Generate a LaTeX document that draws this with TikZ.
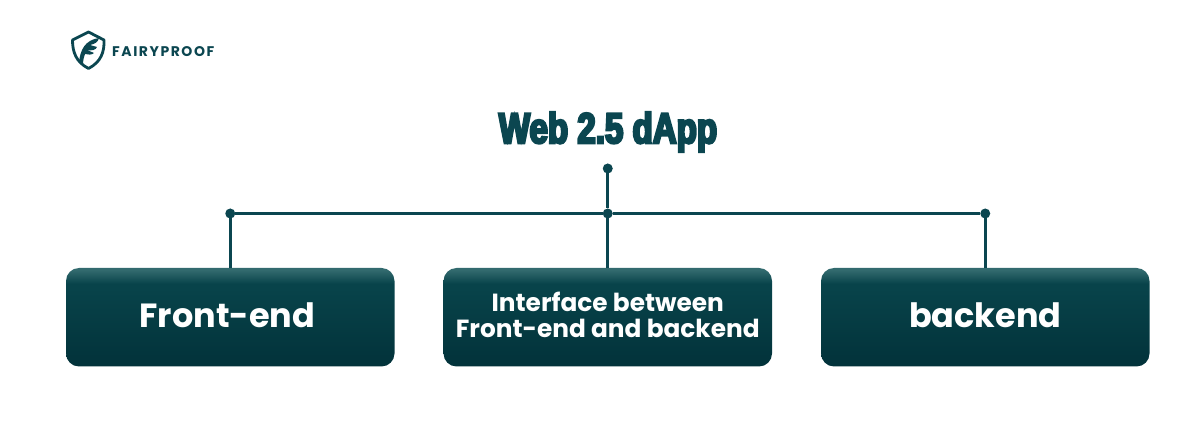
\documentclass[tikz,border=0pt]{standalone}
\usepackage{fontspec}
\setmainfont{Poppins}
\newfontfamily\titlefont[FakeBold=5.5,FakeStretch=0.77]{Liberation Sans Bold}
\usetikzlibrary{positioning}
\definecolor{fpteal}{HTML}{0B4650}
\definecolor{fpbox}{HTML}{08434A}
\definecolor{fpdark}{HTML}{02323A}
\definecolor{fplight}{HTML}{326A6E}
\pgfdeclareverticalshading{boxshade}{100bp}{
  color(0bp)=(fpdark);
  color(25bp)=(fpdark);
  color(65bp)=(fpbox);
  color(67bp)=(fpbox);
  color(74bp)=(fplight);
  color(100bp)=(fplight)}
\tikzstyle{box}=[rectangle,rounded corners=13pt,shading=boxshade,
minimum width=328.5pt,minimum height=98.5pt,align=center,text=white,
font=\fontseries{sb}\selectfont\fontsize{33.5}{33.5}\selectfont,outer sep=0pt]
\tikzstyle{joint}=[circle,fill=fpteal,minimum size=10pt,inner sep=0pt,outer sep=0pt]
\tikzstyle{link}=[draw=fpteal,line width=3pt]

\begin{document}
\begin{tikzpicture}[x=1pt,y=1pt]
            \useasboundingbox (0,0) rectangle (1200,-443);

            % LOGO

            \draw[fpteal,line width=2.8pt,line join=round] (88.5,-32) -- (104,-40)
                .. controls (104.5,-52) and (101,-62) .. (88.5,-68.5)
                .. controls (76,-62) and (72.5,-52) .. (72.5,-40) -- cycle;
            \fill[fpteal] (79,-63) .. controls (80,-50) and (85,-40) .. (99,-38)
                .. controls (98,-42) and (95,-44) .. (90,-45)
                -- (97,-47) .. controls (96,-50) and (92,-51) .. (87,-50)
                -- (94,-53) .. controls (92,-55) and (88,-55) .. (85,-54)
                .. controls (84,-57) and (83,-60) .. (83,-63) -- cycle;
            \node[text=fpteal,anchor=west,inner sep=0pt,
                font=\bfseries\fontsize{14}{16}\selectfont,
                ] (logo) at (112,-51.5) {\addfontfeature{LetterSpace=11}FAIRYPROOF};

            % TITLE

            \node[text=fpteal,inner sep=0pt,
                font=\titlefont\fontsize{43}{48}\selectfont] (title) at (608,-132) {Web 2.5 dApp};

            % BOXES

            \node[box] (middle) at (607.75,-317.25) {\raisebox{5pt}{\fontsize{24.8}{26}\selectfont Interface between}\\[-8pt]\raisebox{5pt}{\fontsize{24.8}{26}\selectfont Front-end and backend}};
            \node[box,left=49pt of middle] (front) {\hspace{-6pt}\raisebox{5pt}{Front-end}};
            \node[box,right=49pt of middle] (back) {\raisebox{5pt}{backend}};

            % JOINTS

            \node[joint,above=49.5pt of middle] (jm) {};
            \node[joint,above=35pt of jm] (jt) {};
            \node[joint,above=49.5pt of front] (jl) {};
            \node[joint,above=49.5pt of back] (jr) {};

            \path[link] (jt) edge (jm);
            \path[link] (jl) edge (jm);
            \path[link] (jm) edge (jr);
            \path[link] (jl) edge (front);
            \path[link] (jm) edge (middle);
            \path[link] (jr) edge (back);

        \end{tikzpicture}
\end{document}
